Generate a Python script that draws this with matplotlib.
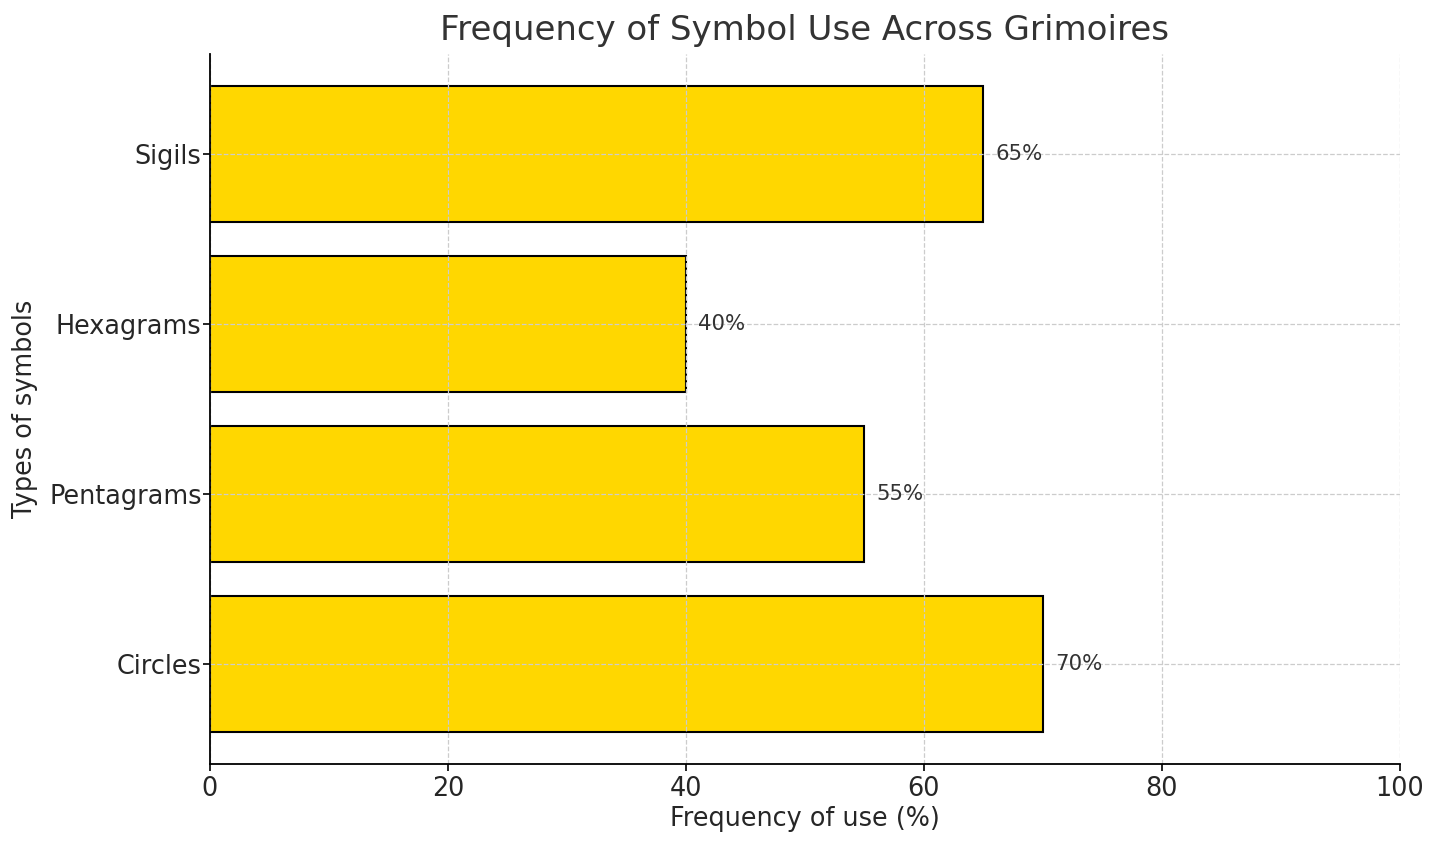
import matplotlib
matplotlib.use("Agg")
from matplotlib import pyplot as plt

# donnees
symbols = ["Circles", "Pentagrams", "Hexagrams", "Sigils"]
frequency = [70, 55, 40, 65]
labels = ["70%", "55%", "40%", "65%"]

fig = plt.figure(figsize=(14.4, 8.46), dpi=100)
ax = fig.add_axes([0.1458, 0.097, 0.8264, 0.839])

bars = ax.barh(symbols, frequency, height=0.8, color="#FFD700", edgecolor="black", linewidth=1.5)

for b, lab in zip(bars, labels):
    ax.text(b.get_width() + 1, b.get_y() + b.get_height() / 2, lab,
            va="center", ha="left", fontsize=15.3, color="#333333")

ax.set_xlim(0, 100)
ax.set_title("Frequency of Symbol Use Across Grimoires", fontsize=24.5, color="#333333", pad=10)
ax.set_xlabel("Frequency of use (%)", fontsize=18.4, color="#262626", labelpad=3)
ax.set_ylabel("Types of symbols", fontsize=18.4, color="#262626", labelpad=8)
ax.tick_params(labelsize=18.4, labelcolor="#262626", length=5, width=1.2)
ax.tick_params(axis="y", pad=1)
ax.grid(True, linestyle="--", color="#cccccc", linewidth=0.9)
ax.set_axisbelow(False)
for s in ["top", "right"]:
    ax.spines[s].set_visible(False)
for s in ["left", "bottom"]:
    ax.spines[s].set_linewidth(1.3)
    ax.spines[s].set_zorder(3)

fig.savefig("out.png", dpi=100)
